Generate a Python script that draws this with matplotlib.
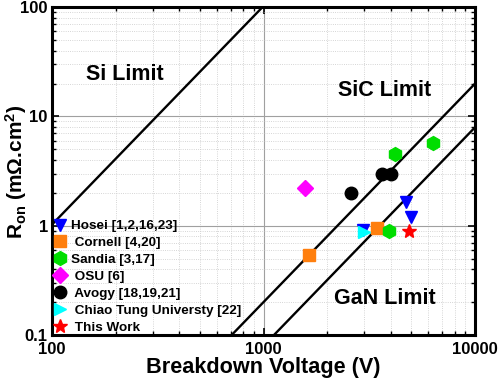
import numpy as np
import matplotlib
matplotlib.use("Agg")
import matplotlib.pyplot as plt
from matplotlib.ticker import LogLocator, FixedLocator, NullFormatter

plt.rcParams['font.family'] = ['Liberation Sans', 'DejaVu Sans']
plt.rcParams['font.weight'] = 'bold'
plt.rcParams['mathtext.fontset'] = 'custom'
plt.rcParams['mathtext.rm'] = 'Liberation Sans:bold'
plt.rcParams['mathtext.bf'] = 'Liberation Sans:bold'
plt.rcParams['mathtext.default'] = 'bf'

# data (V, mOhm.cm2)
hosei_v = [2950, 4700, 5000]
hosei_r = [0.92, 1.65, 1.2]
cornell_v = [1650, 3450]
cornell_r = [0.54, 0.95]
sandia_v = [4200, 6300, 3900]
sandia_r = [4.5, 5.7, 0.89]
osu_v = [1570]
osu_r = [2.2]
avogy_v = [2600, 3650, 4000]
avogy_r = [2.0, 3.0, 3.0]
chiao_v = [3000]
chiao_r = [0.88]
this_v = [4900]
this_r = [0.9]

# material limit lines: Ron = 10**logk * BV**2
limit_names = ["Si Limit", "SiC Limit", "GaN Limit"]
limit_logk = [-3.99, -6.70, -7.10]

fig = plt.figure(figsize=(5, 3.78), dpi=100)
ax = fig.add_axes([0.104, 0.114, 0.846, 0.867])

bv = np.logspace(2, 4, 200)
for lk in limit_logk:
    ax.plot(bv, 10**lk * bv**2, color='black', lw=1.7, zorder=2)

ax.plot(hosei_v, hosei_r, 'v', color='#0000FF', ms=9, ls='none', label='Hosei [1,2,16,23]', zorder=3)
ax.plot(cornell_v, cornell_r, 's', color='#FF7F0E', ms=9, ls='none', label=' Cornell [4,20]', zorder=3)
ax.plot(sandia_v, sandia_r, 'h', color='#00DD00', ms=10, ls='none', label='Sandia [3,17]', zorder=3)
ax.plot(osu_v, osu_r, 'D', color='#FF00FF', ms=8, ls='none', label=' OSU [6]', zorder=3)
ax.plot(avogy_v, avogy_r, 'o', color='black', ms=9, ls='none', label=' Avogy [18,19,21]', zorder=3)
ax.plot(chiao_v, chiao_r, '>', color='#00FFFF', ms=9, ls='none', label=' Chiao Tung Universty [22]', zorder=3)
ax.plot(this_v, this_r, '*', color='#FF0000', ms=10, ls='none', label=' This Work', zorder=4)

ax.set_xscale('log')
ax.set_yscale('log')
ax.set_xlim(100, 10000)
ax.set_ylim(0.1, 100)

ax.xaxis.set_major_locator(FixedLocator([100, 1000, 10000]))
ax.yaxis.set_major_locator(FixedLocator([0.1, 1, 10, 100]))
ax.set_xticklabels(['100', '1000', '10000'])
ax.set_yticklabels(['0.1', '1', '10', '100'])
ax.xaxis.set_minor_locator(LogLocator(subs=np.arange(2, 10)))
ax.yaxis.set_minor_locator(LogLocator(subs=np.arange(2, 10)))
ax.xaxis.set_minor_formatter(NullFormatter())
ax.yaxis.set_minor_formatter(NullFormatter())

ax.grid(True, which='major', color='#A0A0A0', lw=0.8)
ax.grid(True, which='minor', color='#C8C8C8', lw=0.6, ls=':')
ax.set_axisbelow(True)

ax.tick_params(which='both', direction='in', top=True, right=True, labelsize=12)
ax.tick_params(which='major', length=5, width=1.2, pad=3)
ax.tick_params(axis='x', which='major', pad=5)
ax.tick_params(which='minor', length=3, width=1)
for s in ax.spines.values():
    s.set_linewidth(2.2)

fig.text(125 / 500, 1 - 75 / 378, limit_names[0], ha='center', va='center', fontsize=15.5, fontweight='bold')
fig.text(385 / 500, 1 - 90 / 378, limit_names[1], ha='center', va='center', fontsize=15.5, fontweight='bold')
fig.text(385 / 500, 1 - 298 / 378, limit_names[2], ha='center', va='center', fontsize=15.5, fontweight='bold')

fig.text(263 / 500, 1 - 367 / 378, "Breakdown Voltage (V)", ha='center', va='center', fontsize=15.6, fontweight='bold')
fig.text(16 / 500, 1 - 172 / 378, "R$_{on}$ (mΩ.cm$^{2}$)", ha='center', va='center', rotation=90,
         fontsize=15, fontweight='bold')

leg = ax.legend(loc='lower left', frameon=False, fontsize=9.7, handletextpad=0.3,
                borderpad=0.0, labelspacing=0.33, handlelength=1.0, borderaxespad=0.1)

fig.savefig("out.png", dpi=100)
